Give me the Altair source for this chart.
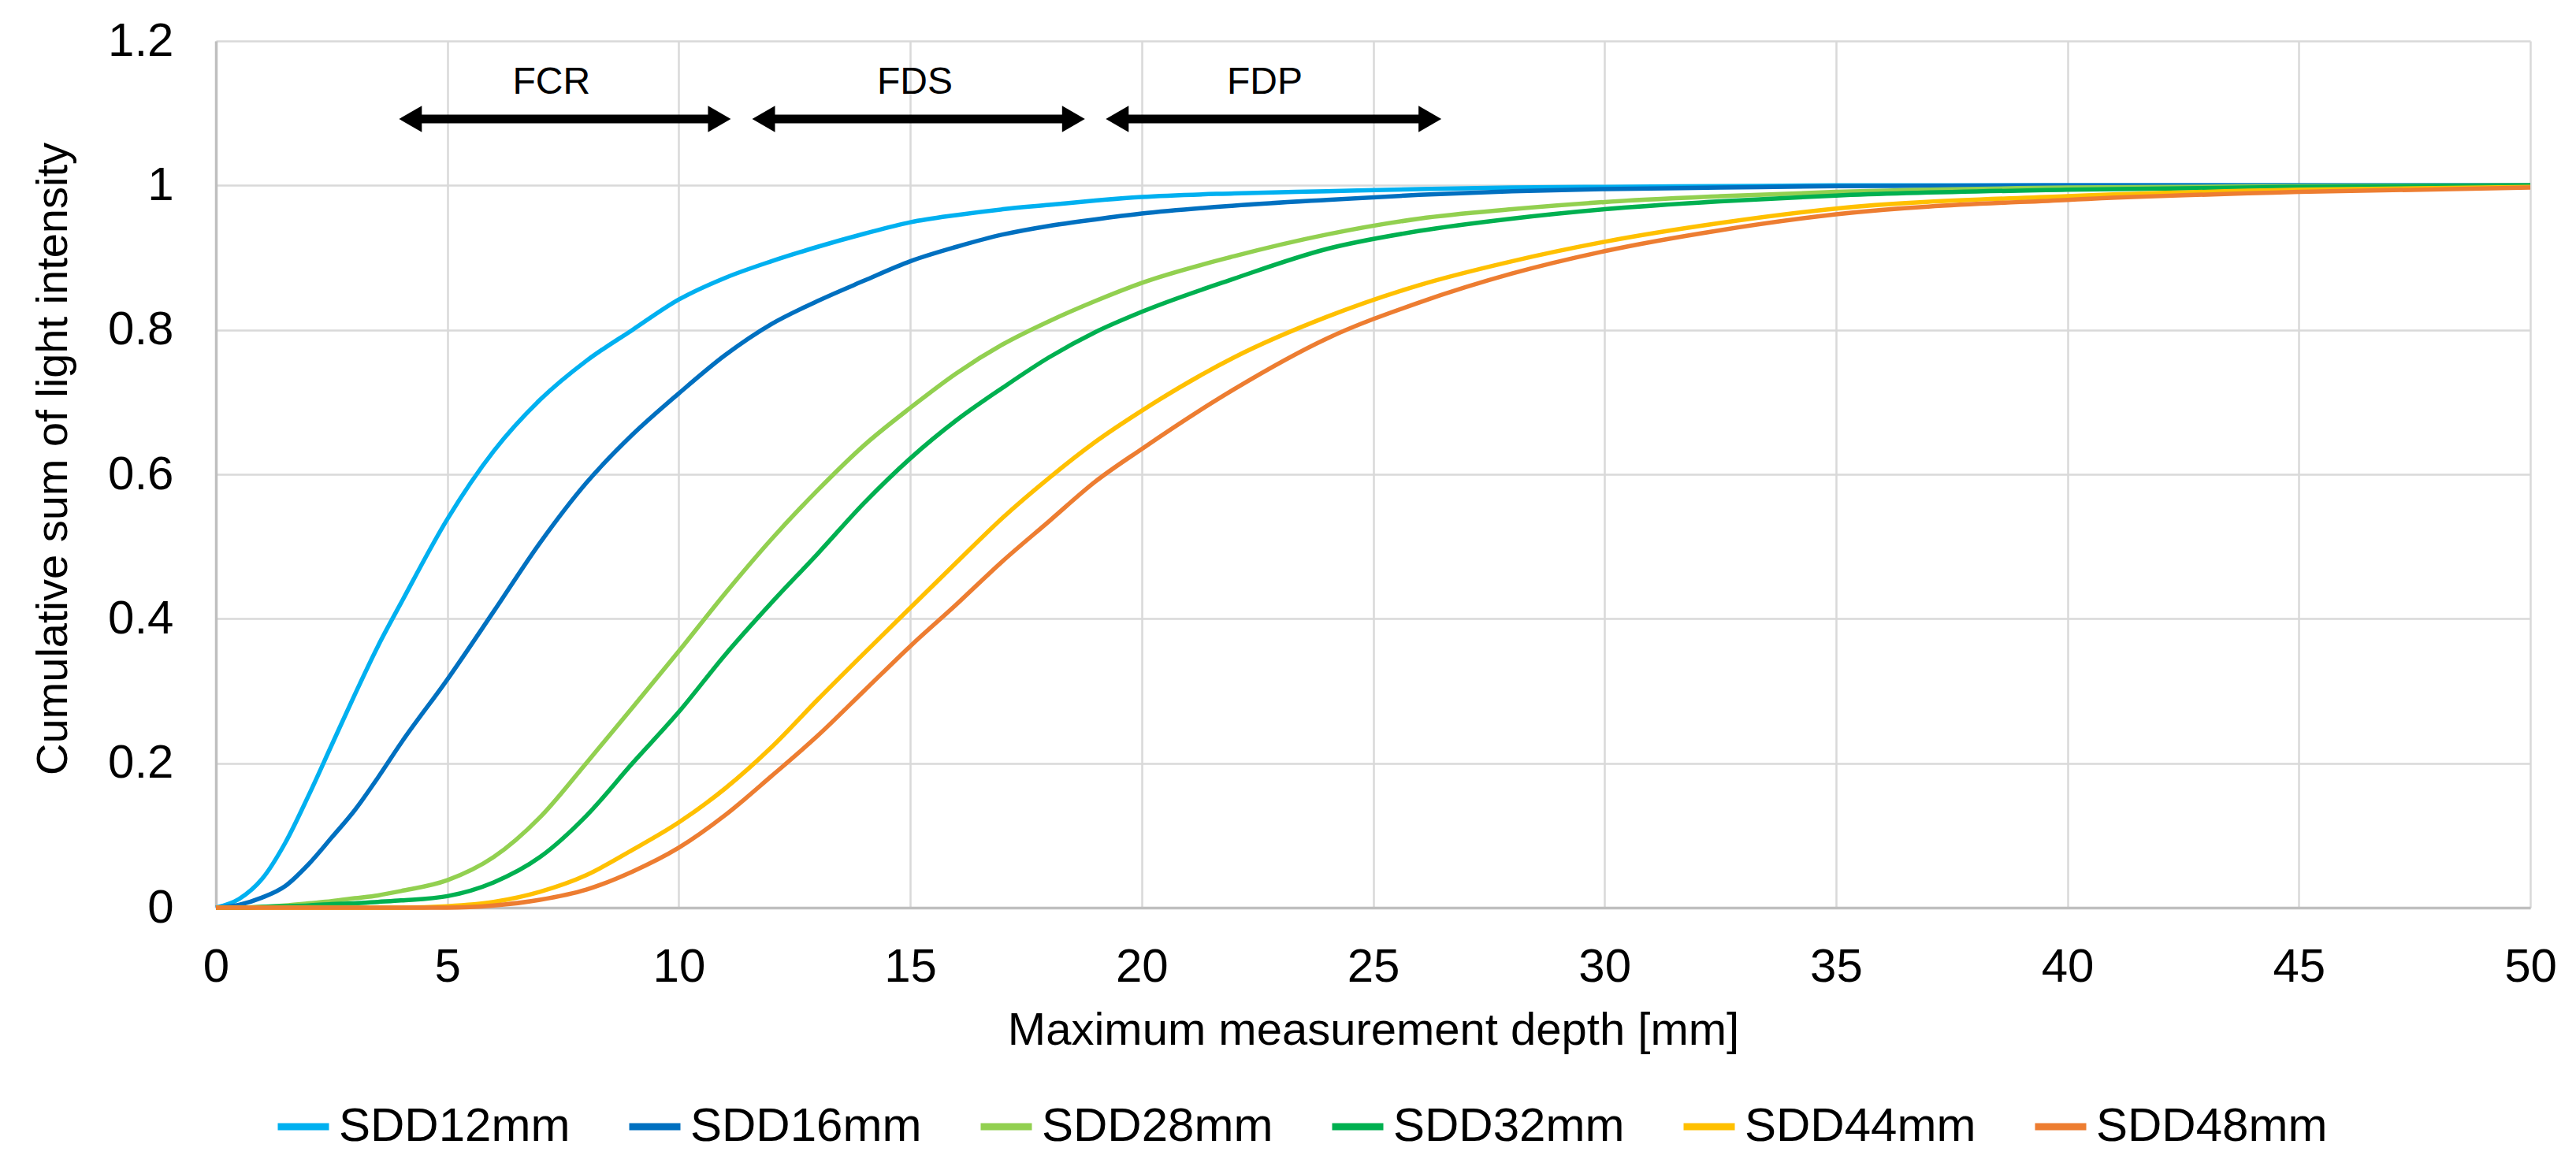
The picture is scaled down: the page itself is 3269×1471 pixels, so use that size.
import altair as alt
import pandas as pd

# ---------------- data ----------------
depth = [0, 0.5, 1, 1.5, 2, 2.5, 3, 3.5, 4, 5, 6, 7, 8, 9, 10, 11, 12, 13, 14, 15,
         16, 17, 18, 19, 20, 22, 24, 26, 28, 30, 32.5, 35, 40, 45, 50]

sdd12 = [0, 0.012, 0.04, 0.09, 0.155, 0.225, 0.295, 0.362, 0.422, 0.538, 0.632, 0.703,
         0.757, 0.80, 0.842, 0.872, 0.895, 0.915, 0.933, 0.949, 0.959, 0.967, 0.973,
         0.979, 0.984, 0.989, 0.992, 0.995, 0.997, 0.998, 0.999, 1.0, 1.0, 1.0, 1.0]
sdd16 = [0, 0.004, 0.014, 0.03, 0.06, 0.097, 0.135, 0.18, 0.228, 0.316, 0.41, 0.505,
         0.588, 0.655, 0.712, 0.765, 0.808, 0.84, 0.868, 0.895, 0.915, 0.932, 0.944,
         0.953, 0.961, 0.972, 0.98, 0.987, 0.992, 0.995, 0.997, 0.999, 1.0, 1.0, 1.0]
sdd28 = [0, 0.0, 0.001, 0.003, 0.006, 0.009, 0.013, 0.017, 0.023, 0.038, 0.07, 0.125,
         0.2, 0.277, 0.355, 0.435, 0.51, 0.578, 0.64, 0.692, 0.74, 0.78, 0.812, 0.84,
         0.865, 0.902, 0.932, 0.954, 0.967, 0.977, 0.985, 0.991, 0.997, 0.999, 1.0]
sdd32 = [0, 0, 0.001, 0.002, 0.003, 0.005, 0.006, 0.008, 0.01, 0.016, 0.035, 0.07,
         0.127, 0.2, 0.271, 0.35, 0.422, 0.49, 0.56, 0.622, 0.675, 0.72, 0.762, 0.797,
         0.825, 0.871, 0.912, 0.937, 0.954, 0.967, 0.978, 0.986, 0.994, 0.998, 1.0]
sdd44 = [0, 0, 0, 0, 0, 0, 0, 0, 0, 0.002, 0.008, 0.022, 0.045, 0.08, 0.118, 0.165,
         0.222, 0.288, 0.352, 0.415, 0.478, 0.54, 0.595, 0.645, 0.688, 0.762, 0.818,
         0.862, 0.895, 0.922, 0.948, 0.968, 0.985, 0.994, 0.998]
sdd48 = [0, 0, 0, 0, 0, 0, 0, 0, 0, 0, 0.003, 0.011, 0.025, 0.05, 0.083, 0.128, 0.182,
         0.238, 0.3, 0.362, 0.42, 0.48, 0.535, 0.59, 0.635, 0.718, 0.788, 0.838, 0.878,
         0.909, 0.938, 0.96, 0.98, 0.991, 0.997]

series_names = ["SDD12mm", "SDD16mm", "SDD28mm", "SDD32mm", "SDD44mm", "SDD48mm"]
series_colors = ["#00B0F0", "#0070C0", "#92D050", "#00B050", "#FFC000", "#ED7D31"]

# annotation arrows
zone_labels = ["FCR", "FDS", "FDP"]
arrow_start = [3.93, 11.56, 19.2]
arrow_end = [11.15, 18.8, 26.5]
arrow_level = [1.092, 1.092, 1.092]
label_x = [7.25, 15.1, 22.66]
label_level = [1.142, 1.142, 1.142]

x_ticks = [0, 5, 10, 15, 20, 25, 30, 35, 40, 45, 50]
y_ticks = [0, 0.2, 0.4, 0.6, 0.8, 1.0, 1.2]

# ---------------- tables ----------------
rows = []
for name, vals in zip(series_names, [sdd12, sdd16, sdd28, sdd32, sdd44, sdd48]):
    for d, v in zip(depth, vals):
        rows.append({"depth": d, "value": v, "series": name})
df = pd.DataFrame(rows)

arrows = pd.DataFrame({
    "label": zone_labels, "start": arrow_start, "end": arrow_end,
    "y": arrow_level, "lx": label_x, "ly": label_level,
})

FONT = "Liberation Sans"
xscale = alt.Scale(domain=[0, 50], nice=False, zero=False)
yscale = alt.Scale(domain=[0, 1.2], nice=False)

lines = alt.Chart(df).mark_line(strokeWidth=5.5, interpolate="monotone").encode(
    x=alt.X("depth:Q", scale=xscale,
            axis=alt.Axis(values=x_ticks, format="d", labelFlush=False,
                          title="Maximum measurement depth [mm]",
                          labelPadding=46, titleY=127)),
    y=alt.Y("value:Q", scale=yscale,
            axis=alt.Axis(values=y_ticks, format=".1~f", labelFlush=False,
                          title="Cumulative sum of light intensity",
                          titleFontSize=56,
                          labelPadding=54, titleX=-178, titleY=530)),
    color=alt.Color("series:N",
                    scale=alt.Scale(domain=series_names, range=series_colors),
                    legend=alt.Legend(orient="none", legendX=74, legendY=1341,
                                      direction="horizontal", columns=6, title=None,
                                      labelFont=FONT, labelFontSize=60,
                                      labelColor="black", symbolType="stroke",
                                      symbolSize=4225, symbolStrokeWidth=9,
                                      columnPadding=56, labelOffset=8, padding=0,
                                      labelLimit=0)),
)

base = alt.Chart(arrows)
shaft = base.mark_rule(strokeWidth=11, color="black", xOffset=16, x2Offset=-16).encode(
    x=alt.X("start:Q", scale=xscale), x2="end:Q", y=alt.Y("y:Q", scale=yscale))
left_heads = base.mark_point(shape="triangle-left", filled=True, size=1120,
                             color="black", opacity=1, xOffset=16).encode(
    x=alt.X("start:Q", scale=xscale), y=alt.Y("y:Q", scale=yscale))
right_heads = base.mark_point(shape="triangle-right", filled=True, size=1120,
                              color="black", opacity=1, xOffset=-16).encode(
    x=alt.X("end:Q", scale=xscale), y=alt.Y("y:Q", scale=yscale))
labels = base.mark_text(font=FONT, fontSize=48, color="black",
                        align="center", baseline="middle").encode(
    x=alt.X("lx:Q", scale=xscale), y=alt.Y("ly:Q", scale=yscale), text="label:N")

chart = alt.layer(lines, shaft, left_heads, right_heads, labels).properties(
    width=2937, height=1100,
    autosize=alt.AutoSizeParams(type="none"),
    padding={"left": 274, "top": 52, "right": 58, "bottom": 319},
    background="white",
).configure_view(stroke=None).configure_axis(
    labelFont=FONT, labelFontSize=60, labelColor="black",
    titleFont=FONT, titleFontSize=58, titleFontWeight="normal", titleColor="black",
    ticks=False, tickSize=0,
    domainColor="#BFBFBF", domainWidth=3.5,
    gridColor="#D9D9D9", gridWidth=2.5,
)

chart.save("out.html", embed_options={"renderer": "svg", "actions": False})
